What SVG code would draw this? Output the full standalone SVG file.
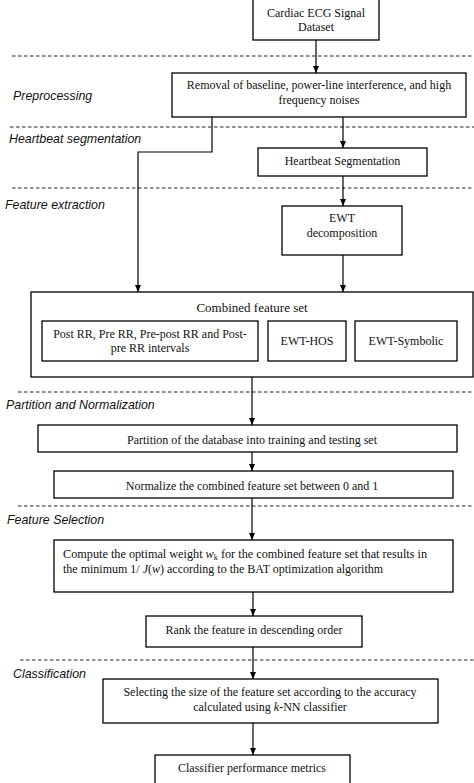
<svg xmlns="http://www.w3.org/2000/svg" width="474" height="783" viewBox="0 0 474 783">
<defs>
<style>
.box{fill:#fff;stroke:#000;stroke-width:1.3}
.t{font-family:"Liberation Serif","Times New Roman",serif;font-size:12px;fill:#111;text-anchor:middle}
.tl{font-family:"Liberation Serif","Times New Roman",serif;font-size:12px;fill:#111}
.lab{font-family:"Liberation Sans",Arial,sans-serif;font-size:12.4px;font-style:italic;fill:#111}
.dash{stroke:#222;stroke-width:1;stroke-dasharray:3.5 2.5;fill:none}
.c{stroke:#000;stroke-width:1.2;fill:none;marker-end:url(#ah)}
.i{font-style:italic}
</style>
<marker id="ah" markerUnits="userSpaceOnUse" markerWidth="8" markerHeight="7" refX="7" refY="3" orient="auto">
<path d="M0,0 L7,3 L0,6 z" fill="#000"/>
</marker>
</defs>
<rect width="474" height="783" fill="#fff"/>
<g id="separators">
<line class="dash" x1="12" y1="56" x2="474" y2="56"/>
<line class="dash" x1="10" y1="127" x2="474" y2="127"/>
<line class="dash" x1="12" y1="188" x2="474" y2="188"/>
<line class="dash" x1="18" y1="392" x2="474" y2="392"/>
<line class="dash" x1="18" y1="506" x2="474" y2="506"/>
<line class="dash" x1="20" y1="660" x2="474" y2="660"/>
</g>
<g id="labels">
<text class="lab" x="13" y="100">Preprocessing</text>
<text class="lab" x="9" y="143">Heartbeat segmentation</text>
<text class="lab" x="5" y="209">Feature extraction</text>
<text class="lab" x="6" y="409">Partition and Normalization</text>
<text class="lab" x="7" y="524">Feature Selection</text>
<text class="lab" x="13" y="678">Classification</text>
</g>
<g id="connectors">
<line class="c" x1="316" y1="40" x2="316" y2="73"/>
<polyline class="c" points="212,117 212,152 138,152 138,292"/>
<line class="c" x1="343" y1="117" x2="343" y2="148"/>
<line class="c" x1="343" y1="176" x2="343" y2="206"/>
<line class="c" x1="343" y1="255" x2="343" y2="292"/>
<line class="c" x1="252" y1="377" x2="252" y2="425"/>
<line class="c" x1="252" y1="452" x2="252" y2="471"/>
<line class="c" x1="252" y1="498" x2="252" y2="540"/>
<line class="c" x1="253" y1="592" x2="253" y2="616"/>
<line class="c" x1="253" y1="647" x2="253" y2="679"/>
<line class="c" x1="253" y1="723" x2="253" y2="755"/>
</g>
<g id="dataset">
<rect class="box" x="253" y="-2" width="126" height="42"/>
<text class="t" x="316" y="17">Cardiac ECG Signal</text>
<text class="t" x="316" y="31">Dataset</text>
</g>
<g id="removal">
<rect class="box" x="172" y="73" width="294" height="44"/>
<text class="t" x="319" y="89">Removal of baseline, power-line interference, and high</text>
<text class="t" x="319" y="104">frequency noises</text>
</g>
<g id="segmentation">
<rect class="box" x="258" y="148" width="169" height="28"/>
<text class="t" x="342.5" y="165">Heartbeat Segmentation</text>
</g>
<g id="ewt">
<rect class="box" x="282" y="206" width="120" height="49"/>
<text class="t" x="342" y="222">EWT</text>
<text class="t" x="342" y="237">decomposition</text>
</g>
<g id="combined">
<rect class="box" x="31" y="292" width="442" height="85"/>
<text class="t" x="252" y="312" style="font-size:13px">Combined feature set</text>
<g id="rr">
<rect class="box" x="42" y="321" width="216" height="40"/>
<text class="t" x="150" y="338">Post RR, Pre RR, Pre-post RR and Post-</text>
<text class="t" x="150" y="352">pre RR intervals</text>
</g>
<g id="hos">
<rect class="box" x="268" y="321" width="78" height="40"/>
<text class="t" x="307" y="345">EWT-HOS</text>
</g>
<g id="symbolic">
<rect class="box" x="355" y="321" width="102" height="40"/>
<text class="t" x="406" y="345">EWT-Symbolic</text>
</g>
</g>
<g id="partition">
<rect class="box" x="38" y="425" width="419" height="27"/>
<text class="t" x="252" y="444">Partition of the database into training and testing set</text>
</g>
<g id="normalize">
<rect class="box" x="54" y="471" width="399" height="27"/>
<text class="t" x="252" y="490">Normalize the combined feature set between 0 and 1</text>
</g>
<g id="compute">
<rect class="box" x="54" y="540" width="399" height="52"/>
<text class="tl" x="63" y="558" textLength="364" lengthAdjust="spacingAndGlyphs">Compute the optimal weight <tspan class="i">w</tspan><tspan font-size="8" dy="2">k</tspan><tspan dy="-2"> for the combined feature set that results in</tspan></text>
<text class="tl" x="63" y="573">the minimum 1/ <tspan class="i">J</tspan>(<tspan class="i">w</tspan>) according to the BAT optimization algorithm</text>
</g>
<g id="rank">
<rect class="box" x="146" y="616" width="216" height="31"/>
<text class="t" x="254" y="634">Rank the feature in descending order</text>
</g>
<g id="selecting">
<rect class="box" x="103" y="679" width="335" height="44"/>
<text class="t" x="270" y="696">Selecting the size of the feature set according to the accuracy</text>
<text class="t" x="270" y="711">calculated using <tspan class="i">k</tspan>-NN classifier</text>
</g>
<g id="metrics">
<rect class="box" x="155" y="755" width="195" height="35"/>
<text class="t" x="252" y="772">Classifier performance metrics</text>
</g>
</svg>
